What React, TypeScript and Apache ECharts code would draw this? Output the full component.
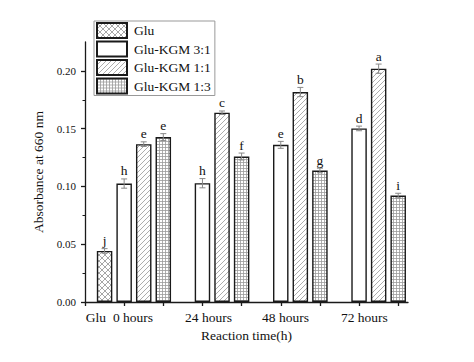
import React, { useEffect, useRef } from "react";
import * as echarts from "echarts";

const seriesNames = ["Glu", "Glu-KGM 3:1", "Glu-KGM 1:1", "Glu-KGM 1:3"];

// bar positions on the numeric x axis
const xGlu = [1];
const x31 = [2, 6, 10, 14];
const x11 = [3, 7, 11, 15];
const x13 = [4, 8, 12, 16];

// absorbance values
const vGlu = [0.0442];
const v31 = [0.1025, 0.1028, 0.136, 0.1502];
const v11 = [0.1366, 0.1638, 0.1817, 0.2019];
const v13 = [0.1427, 0.1259, 0.1138, 0.0921];

// error (±)
const eGlu = [0.002];
const e31 = [0.004, 0.004, 0.003, 0.002];
const e11 = [0.002, 0.0015, 0.004, 0.004];
const e13 = [0.003, 0.003, 0.002, 0.002];

// significance letters
const lGlu = ["j"];
const l31 = ["h", "h", "e", "d"];
const l11 = ["e", "c", "b", "a"];
const l13 = ["e", "f", "g", "i"];

// axis ticks / labels
const xTicks = [0, 2, 4, 6, 8, 10, 12, 14, 16];
const xLabelPos = [0.56, 2.45, 6.31, 10.24, 14.27];
const xLabelText = ["Glu", "0 hours", "24 hours", "48 hours", "72 hours"];
const yTicks = [0, 0.05, 0.1, 0.15, 0.2];

const FONT = '"Liberation Serif", "Times New Roman", serif';

function makePattern(kind: string) {
  const s = kind === "cross" ? 6 : kind === "hatch" ? 5 : 3;
  const c = document.createElement("canvas");
  c.width = s;
  c.height = s;
  const ctx = c.getContext("2d")!;
  ctx.fillStyle = "#fff";
  ctx.fillRect(0, 0, s, s);
  ctx.strokeStyle = kind === "grid" ? "#9a9a9a" : kind === "hatch" ? "#8a8a8a" : "#808080";
  ctx.lineWidth = kind === "grid" ? 0.8 : 0.7;
  ctx.beginPath();
  if (kind === "cross") {
    ctx.moveTo(0, 0);
    ctx.lineTo(s, s);
    ctx.moveTo(s, 0);
    ctx.lineTo(0, s);
  } else if (kind === "hatch") {
    ctx.moveTo(0, s);
    ctx.lineTo(s, 0);
    ctx.moveTo(-1, 1);
    ctx.lineTo(1, -1);
    ctx.moveTo(s - 1, s + 1);
    ctx.lineTo(s + 1, s - 1);
  } else {
    ctx.moveTo(0.5, 0);
    ctx.lineTo(0.5, s);
    ctx.moveTo(0, 0.5);
    ctx.lineTo(s, 0.5);
  }
  ctx.stroke();
  return { image: c, repeat: "repeat", imageWidth: s, imageHeight: s } as any;
}

export default function App() {
  const ref = useRef<HTMLDivElement>(null);
  useEffect(() => {
    if (!ref.current) return;
    const chart = echarts.init(ref.current, undefined, { renderer: "svg" });

    const groups = [
      { name: seriesNames[0], xs: xGlu, vs: vGlu, es: eGlu, ls: lGlu, fill: makePattern("cross") },
      { name: seriesNames[1], xs: x31, vs: v31, es: e31, ls: l31, fill: "#ffffff" },
      { name: seriesNames[2], xs: x11, vs: v11, es: e11, ls: l11, fill: makePattern("hatch") },
      { name: seriesNames[3], xs: x13, vs: v13, es: e13, ls: l13, fill: makePattern("grid") },
    ];

    const errData: number[][] = [];
    const errLetters: string[] = [];
    groups.forEach((g) => {
      g.xs.forEach((x, i) => {
        errData.push([x, g.vs[i], g.es[i]]);
        errLetters.push(g.ls[i]);
      });
    });

    const barSeries = groups.map((g) => ({
      name: g.name,
      type: "bar",
      barWidth: 15.5,
      barGap: "-100%",
      data: g.xs.map((x, i) => [x, g.vs[i]]),
      itemStyle: { color: g.fill, borderColor: "#1a1a1a", borderWidth: 1.4 },
      z: 2,
    }));

    const option: any = {
      animation: false,
      backgroundColor: "#ffffff",
      textStyle: { fontFamily: FONT },
      grid: { left: 85, top: 42, right: 66, bottom: 60 },
      legend: {
        data: seriesNames,
        orient: "vertical",
        left: 94,
        top: 21,
        itemWidth: 30,
        itemHeight: 15,
        itemGap: 1.5,
        padding: [1, 4, 1, 2],
        borderColor: "#999",
        borderWidth: 1,
        icon: "rect",
        textStyle: { fontFamily: FONT, fontSize: 13.5, color: "#111", padding: [0, 0, 0, 2] },
      },
      xAxis: {
        type: "value",
        min: 0,
        max: 16.5,
        name: "Reaction time(h)",
        nameLocation: "middle",
        nameGap: 26,
        nameTextStyle: { fontFamily: FONT, fontSize: 13.5, color: "#111" },
        axisLine: { show: true, onZero: false, lineStyle: { color: "#1a1a1a", width: 1.3 } },
        axisTick: { show: true, customValues: xTicks, length: 4, lineStyle: { color: "#1a1a1a", width: 1.3 } },
        axisLabel: {
          customValues: xLabelPos,
          formatter: (v: number) => {
            let best = 0;
            xLabelPos.forEach((p, i) => {
              if (Math.abs(p - v) < Math.abs(xLabelPos[best] - v)) best = i;
            });
            return xLabelText[best];
          },
          fontFamily: FONT,
          fontSize: 13.5,
          color: "#111",
          margin: 8,
        },
        splitLine: { show: false },
      },
      yAxis: {
        type: "value",
        min: 0,
        max: 0.225,
        name: "Absorbance at 660 nm",
        nameLocation: "middle",
        nameGap: 31,
        nameTextStyle: { fontFamily: FONT, fontSize: 13.5, color: "#111" },
        axisLine: { show: true, lineStyle: { color: "#1a1a1a", width: 1.3 } },
        axisTick: { show: true, customValues: yTicks, length: 4, lineStyle: { color: "#1a1a1a", width: 1.3 } },
        minorTick: { show: true, splitNumber: 2, length: 2.5, lineStyle: { color: "#1a1a1a", width: 1 } },
        axisLabel: {
          customValues: yTicks,
          formatter: (v: number) => v.toFixed(2),
          fontFamily: FONT,
          fontSize: 11,
          color: "#111",
          margin: 9,
        },
        splitLine: { show: false },
      },
      series: [
        ...barSeries,
        {
          type: "custom",
          name: "err",
          data: errData,
          encode: { x: 0, y: 1 },
          z: 5,
          clip: false,
          renderItem: (params: any, api: any) => {
            const x = api.value(0);
            const y = api.value(1);
            const e = api.value(2);
            const top = api.coord([x, y + e]);
            const bot = api.coord([x, y - e]);
            const hw = 3;
            const st = { stroke: "#888", lineWidth: 1 };
            return {
              type: "group",
              children: [
                { type: "line", shape: { x1: top[0], y1: top[1], x2: bot[0], y2: bot[1] }, style: st },
                { type: "line", shape: { x1: top[0] - hw, y1: top[1], x2: top[0] + hw, y2: top[1] }, style: st },
                { type: "line", shape: { x1: bot[0] - hw, y1: bot[1], x2: bot[0] + hw, y2: bot[1] }, style: st },
                {
                  type: "text",
                  x: top[0],
                  y: top[1] - 1,
                  style: {
                    text: errLetters[params.dataIndex],
                    fontFamily: FONT,
                    fontSize: 13.5,
                    fill: "#111",
                    textAlign: "center",
                    textVerticalAlign: "bottom",
                  },
                },
              ],
            };
          },
        },
      ],
    };

    chart.setOption(option);
    return () => chart.dispose();
  }, []);

  return (
    <div
      ref={ref}
      style={{ position: "fixed", left: 0, top: 0, width: 474, height: 362, background: "#fff" }}
    />
  );
}
